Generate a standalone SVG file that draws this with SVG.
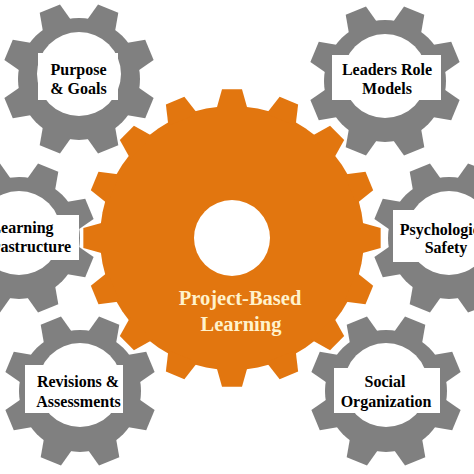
<svg xmlns="http://www.w3.org/2000/svg" width="474" height="474" viewBox="0 0 474 474">
<style>
.gray{fill:#808080}
.orange{fill:#E2760F}
.hole{fill:#ffffff}
text{font-family:'Liberation Serif',serif;font-weight:bold}
.lbl{font-size:16px;fill:#000000;text-anchor:middle}
.main{font-size:20.5px;fill:#FFF2CC;text-anchor:middle}
</style>
<defs>
<polygon id="gt" points="-10.98,-76.21 10.98,-76.21 15.47,-56 -15.47,-56"/>
<g id="grayGear">
<circle r="61"/>
<use href="#gt" transform="rotate(22.5)"/>
<use href="#gt" transform="rotate(67.5)"/>
<use href="#gt" transform="rotate(112.5)"/>
<use href="#gt" transform="rotate(157.5)"/>
<use href="#gt" transform="rotate(202.5)"/>
<use href="#gt" transform="rotate(247.5)"/>
<use href="#gt" transform="rotate(292.5)"/>
<use href="#gt" transform="rotate(337.5)"/>
</g>
<polygon id="ot" points="-10,-148.66 10,-148.66 15.83,-128 -15.83,-128"/>
</defs>
<rect width="474" height="474" fill="#ffffff"/>

<g id="main-gear">
<g class="orange" transform="translate(232,238)">
<circle r="132"/>
<use href="#ot" transform="rotate(0)"/>
<use href="#ot" transform="rotate(22.5)"/>
<use href="#ot" transform="rotate(45)"/>
<use href="#ot" transform="rotate(67.5)"/>
<use href="#ot" transform="rotate(90)"/>
<use href="#ot" transform="rotate(112.5)"/>
<use href="#ot" transform="rotate(135)"/>
<use href="#ot" transform="rotate(157.5)"/>
<use href="#ot" transform="rotate(180)"/>
<use href="#ot" transform="rotate(202.5)"/>
<use href="#ot" transform="rotate(225)"/>
<use href="#ot" transform="rotate(247.5)"/>
<use href="#ot" transform="rotate(270)"/>
<use href="#ot" transform="rotate(292.5)"/>
<use href="#ot" transform="rotate(315)"/>
<use href="#ot" transform="rotate(337.5)"/>
</g>
<circle class="hole" cx="232" cy="238" r="38"/>
<text class="main" x="240" y="305" font-family="Liberation Serif, serif">Project-Based</text>
<text class="main" x="241" y="331" font-family="Liberation Serif, serif">Learning</text>
</g>

<g id="purpose-goals">
<use href="#grayGear" class="gray" transform="translate(79,79)"/>
<circle class="hole" cx="79" cy="74" r="42"/>
<rect class="hole" x="38" y="53" width="80" height="47"/>
<text class="lbl" x="78.5" y="75" font-family="Liberation Serif, serif">Purpose</text>
<text class="lbl" x="78.5" y="94" font-family="Liberation Serif, serif">&amp; Goals</text>
</g>

<g id="leaders-role-models">
<use href="#grayGear" class="gray" transform="translate(385,81)"/>
<circle class="hole" cx="385" cy="76" r="42"/>
<rect class="hole" x="332" y="55" width="109" height="45"/>
<text class="lbl" x="387" y="75" font-family="Liberation Serif, serif">Leaders Role</text>
<text class="lbl" x="387" y="94" font-family="Liberation Serif, serif">Models</text>
</g>

<g id="learning-infrastructure">
<use href="#grayGear" class="gray" transform="translate(19,238)"/>
<circle class="hole" cx="19" cy="233" r="42"/>
<rect class="hole" x="-40" y="215" width="119" height="45"/>
<text class="lbl" x="22" y="233" font-family="Liberation Serif, serif">Learning</text>
<text class="lbl" x="22" y="252" font-family="Liberation Serif, serif">Infrastructure</text>
</g>

<g id="psychological-safety">
<use href="#grayGear" class="gray" transform="translate(449,238)"/>
<circle class="hole" cx="449" cy="233" r="42"/>
<rect class="hole" x="393" y="210" width="115" height="52"/>
<text class="lbl" x="446" y="235" font-family="Liberation Serif, serif">Psychological</text>
<text class="lbl" x="446" y="253" font-family="Liberation Serif, serif">Safety</text>
</g>

<g id="revisions-assessments">
<use href="#grayGear" class="gray" transform="translate(80,391)"/>
<circle class="hole" cx="80" cy="385" r="42"/>
<rect class="hole" x="25" y="365" width="98" height="48"/>
<text class="lbl" x="78" y="387" font-family="Liberation Serif, serif">Revisions &amp;</text>
<text class="lbl" x="78.5" y="407" font-family="Liberation Serif, serif">Assessments</text>
</g>

<g id="social-organization">
<use href="#grayGear" class="gray" transform="translate(386,391)"/>
<circle class="hole" cx="386" cy="385" r="42"/>
<rect class="hole" x="334" y="368" width="106" height="45"/>
<text class="lbl" x="385" y="387" font-family="Liberation Serif, serif">Social</text>
<text class="lbl" x="386" y="407" font-family="Liberation Serif, serif">Organization</text>
</g>

<g id="connectors"/>
</svg>
